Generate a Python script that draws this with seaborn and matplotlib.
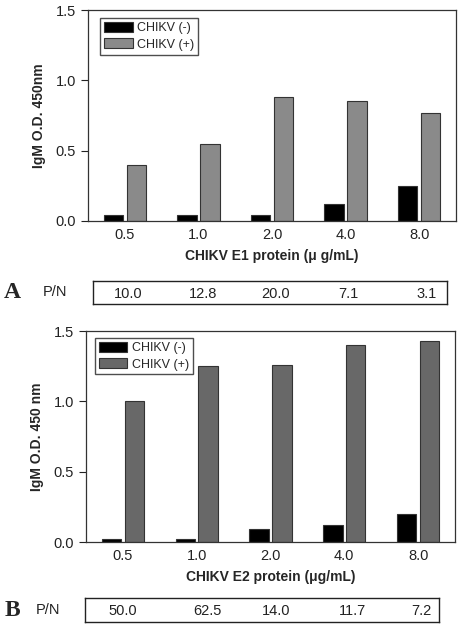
import matplotlib
matplotlib.use("Agg")
import matplotlib.pyplot as plt
import seaborn as sns
import pandas as pd

# doses and P/N ratios
doses = ["0.5", "1.0", "2.0", "4.0", "8.0"]
groups = ["CHIKV (-)", "CHIKV (+)"]

e1_neg = [0.04, 0.045, 0.045, 0.12, 0.25]
e1_pos = [0.40, 0.55, 0.88, 0.85, 0.77]
e1_pn = ["10.0", "12.8", "20.0", "7.1", "3.1"]

e2_neg = [0.02, 0.02, 0.09, 0.12, 0.20]
e2_pos = [1.00, 1.25, 1.26, 1.40, 1.43]
e2_pn = ["50.0", "62.5", "14.0", "11.7", "7.2"]

sns.set_theme(style="white")
plt.rcParams["font.family"] = ["Liberation Sans", "DejaVu Sans"]


def make_df(neg, pos):
    rows = []
    for d, n, p in zip(doses, neg, pos):
        rows.append({"dose": d, "group": groups[0], "od": n})
        rows.append({"dose": d, "group": groups[1], "od": p})
    return pd.DataFrame(rows)


def draw_panel(ax, df, pos_color, xlabel, ylabel, leg_anchor):
    sns.barplot(data=df, x="dose", y="od", hue="group", order=doses,
                hue_order=groups, palette=["black", pos_color],
                width=0.62, gap=0.15, edgecolor="#333333", linewidth=0.8,
                saturation=1, ax=ax)
    ax.set_ylim(0, 1.5)
    ax.set_xlim(-0.5, 4.5)
    ax.set_yticks([0.0, 0.5, 1.0, 1.5])
    ax.set_yticklabels(["0.0", "0.5", "1.0", "1.5"])
    ax.tick_params(axis="y", direction="out", length=5, width=0.8,
                   left=True, labelsize=10.5, colors="#222222")
    ax.tick_params(axis="x", length=0, labelsize=10.5, pad=5, colors="#222222")
    for s in ax.spines.values():
        s.set_visible(True)
        s.set_color("#333333")
        s.set_linewidth(0.9)
    ax.set_xlabel(xlabel, fontsize=10, fontweight="bold", labelpad=5)
    ax.set_ylabel(ylabel, fontsize=10, fontweight="bold", labelpad=7)
    leg = ax.legend(loc="upper left", bbox_to_anchor=leg_anchor,
                    fontsize=9, handlelength=2.3, handleheight=0.85,
                    frameon=True, fancybox=False, borderpad=0.3,
                    labelspacing=0.35, handletextpad=0.35, borderaxespad=0)
    leg.set_zorder(10)
    leg.get_frame().set_edgecolor("#222222")
    leg.get_frame().set_linewidth(1.0)


def draw_pn(fig, rect, letter, letter_x, pn_x, values, group_px):
    box = fig.add_axes(rect)
    box.set_xticks([])
    box.set_yticks([])
    for s in box.spines.values():
        s.set_color("#222222")
        s.set_linewidth(1.0)
    left_px = rect[0] * 461
    for px, v in zip(group_px, values):
        fx = (px - left_px) / (rect[2] * 461)
        box.text(fx, 0.45, v, ha="center", va="center", fontsize=10.5,
                 transform=box.transAxes, color="#222222")
    ymid = rect[1] + rect[3] / 2
    fig.text(letter_x / 461, ymid, letter, fontsize=17, fontweight="bold",
             family="Liberation Serif", ha="center", va="center")
    fig.text(pn_x / 461, ymid, "P/N", fontsize=10.5, ha="center", va="center",
             color="#222222")


fig = plt.figure(figsize=(4.61, 6.28), dpi=100)

ax1 = fig.add_axes([88 / 461, 1 - 221 / 628, 368 / 461, 211 / 628])
draw_panel(ax1, make_df(e1_neg, e1_pos), "#8a8a8a",
           "CHIKV E1 protein (\u03bc g/mL)", "IgM O.D. 450nm", (0.033, 0.962))

ax2 = fig.add_axes([86 / 461, 1 - 542 / 628, 369 / 461, 211 / 628])
draw_panel(ax2, make_df(e2_neg, e2_pos), "#686868",
           "CHIKV E2 protein (\u03bcg/mL)", "IgM O.D. 450 nm", (0.024, 0.967))

draw_pn(fig, [93 / 461, 1 - 304 / 628, 354 / 461, 23 / 628], "A", 12, 55,
        e1_pn, [128, 203, 276, 348, 427])
draw_pn(fig, [85 / 461, 1 - 622 / 628, 354 / 461, 24 / 628], "B", 12, 48,
        e2_pn, [123, 207, 276, 352, 421])

fig.savefig("out.png", dpi=100)
